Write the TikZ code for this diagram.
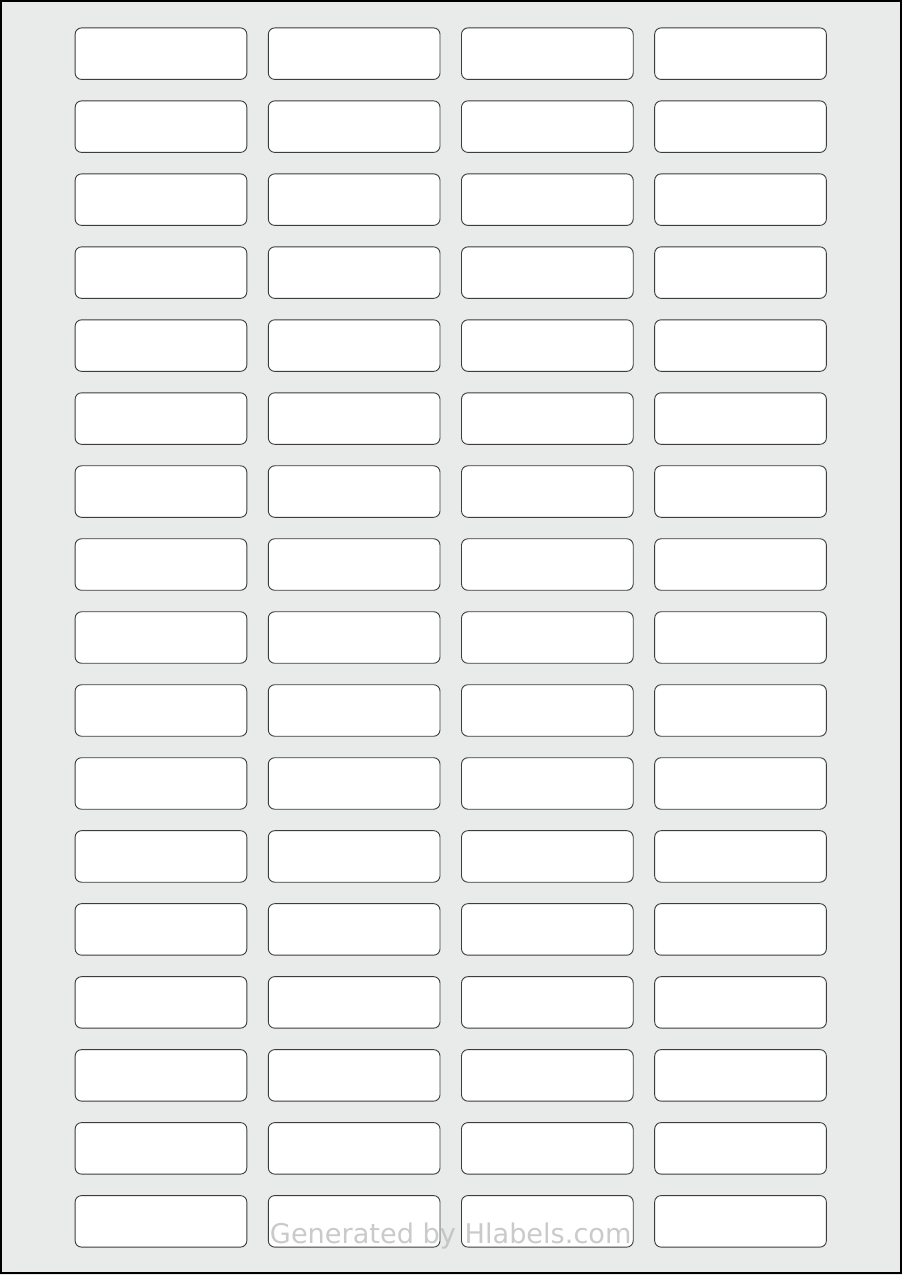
\documentclass[tikz,border=0pt]{standalone}
\usepackage{fontspec}
\newfontfamily\markfont{DejaVu Sans}
\definecolor{sheetgray}{RGB}{233,234,234}
\definecolor{labeledge}{RGB}{60,60,60}
\definecolor{markgray}{RGB}{185,185,185}
\begin{document}
\begin{tikzpicture}[x=1mm,y=-1mm]

    % Sheet
    \useasboundingbox (0,0) rectangle (210,297);
    \fill[sheetgray] (0,0) rectangle (210,297);

    % Labels, 4 x 17
    \foreach \i in {0,1,2,3} {
        \foreach \j in {0,1,...,16} {
            \draw[fill=white, draw=labeledge, line width=0.6pt, rounded corners=1.5mm]
                (17.5+45*\i,6.5+17*\j) rectangle ++(40,12);
        }
    }

    % Outer border
    \draw[line width=1.3pt] (0.2,0.2) rectangle (209.8,296.6);

    % Watermark
    \node[anchor=base, inner sep=0pt, text=markgray, text opacity=0.75,
          font=\markfont\fontsize{18pt}{20pt}\selectfont]
        (mark) at (105,289.7) {Generated by Hlabels.com};

\end{tikzpicture}
\end{document}
